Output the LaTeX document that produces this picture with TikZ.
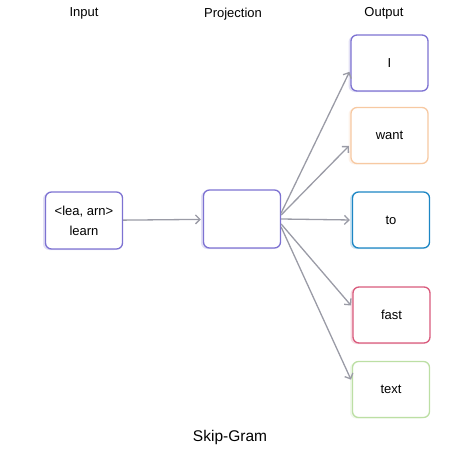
\documentclass[tikz,border=0pt]{standalone}
\usepackage{fontspec}
\setmainfont{Liberation Sans}
\usepackage{tikz}
\usetikzlibrary{arrows.meta, shadows}
\definecolor{cpurple}{HTML}{7D72D2}
\definecolor{corange}{HTML}{F7C9A2}
\definecolor{cblue}{HTML}{1C86C4}
\definecolor{cred}{HTML}{D95A7C}
\definecolor{cgreen}{HTML}{BCDFA4}
\definecolor{cgray}{HTML}{9A9BA6}
\begin{document}
\begin{tikzpicture}
        [x=1pt, y=-1pt, font=\fontsize{13}{16}\selectfont,
        box/.style={draw=#1, fill=white, rounded corners=6pt, line width=1.3pt,
          minimum width=77pt, minimum height=56pt, align=center,
          general shadow={fill=#1!22, shadow xshift=-2.5pt, shadow yshift=-1pt}},
        box/.default=cpurple,
        arr/.style={-{Straight Barb[length=4.5pt,width=9pt]},line width=1.3pt,draw=cgray,shorten >=2pt}]
        \useasboundingbox (0,0) rectangle (474,474);
        \node (In) at (84,13) {Input};
        \node (Pr) at (233,14) {Projection};
        \node (Out) at (384,13) {Output};
        \node (SG) at (230,437) [font=\fontsize{15.5}{18}\selectfont] {Skip-Gram};
        \node (I) at (389.5,63) [box] {I};
        \node (want) at (389.5,135.5) [box=corange] {want};
        \node (to) at (391,220) [box=cblue] {to};
        \node (fast) at (391.5,315) [box=cred] {fast};
        \node (text) at (391,389.5) [box=cgreen] {text};
        \node (proj) at (242,219) [box, minimum height=58pt] {};
        \node (inp) at (84,220.5) [box, minimum height=57pt] {\textless lea, arn\textgreater\\[4pt]learn}
           edge[arr] (proj);
        \path ([yshift=6pt]proj.east) edge[arr] ([yshift=-7pt]I.west)
           ([yshift=4pt]proj.east) edge[arr] ([yshift=-9pt]want.west);
        \path (proj.east) edge[arr] (to.west);
        \path ([yshift=-5pt]proj.east) edge[arr] ([yshift=8pt]fast.west)
           ([yshift=-8pt]proj.east) edge[arr] ([yshift=8pt]text.west);
\end{tikzpicture}
\end{document}
